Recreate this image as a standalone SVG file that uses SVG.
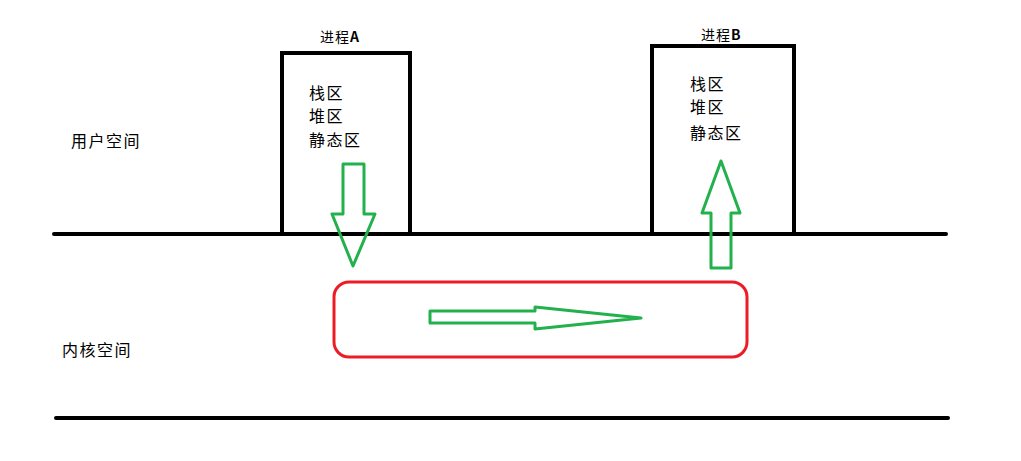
<svg xmlns="http://www.w3.org/2000/svg" width="1021" height="461" viewBox="0 0 1021 461">
<style>
text{font-family:"Noto Sans CJK SC","Noto Sans",sans-serif;fill:#000}
.lbl{font-size:16px;letter-spacing:1.5px}
.ttl{font-size:14px;letter-spacing:1px}
.b{font-weight:bold}
.box{fill:#fff;stroke:#000;stroke-width:4}
.line{stroke:#000;stroke-width:4;stroke-linecap:round}
.arr{fill:none;stroke:#22b14c;stroke-width:3;stroke-linejoin:round}
</style>
<rect width="1021" height="461" fill="#fff"/>
<g id="space-labels">
<text class="lbl" x="71" y="147">用户空间</text>
<text class="lbl" x="62" y="356">内核空间</text>
</g>
<g id="processA">
<rect class="box" x="282" y="53" width="128" height="181"/>
<text class="ttl" x="320" y="42">进程<tspan class="b">A</tspan></text>
<text class="lbl" x="309" y="99">栈区</text>
<text class="lbl" x="309" y="122">堆区</text>
<text class="lbl" x="309" y="146">静态区</text>
</g>
<g id="processB">
<rect class="box" x="652" y="46" width="142" height="188"/>
<text class="ttl" x="701" y="40">进程<tspan class="b">B</tspan></text>
<text class="lbl" x="690" y="90">栈区</text>
<text class="lbl" x="690" y="113">堆区</text>
<text class="lbl" x="690" y="139">静态区</text>
</g>
<g id="lines">
<line class="line" x1="54" y1="234" x2="946" y2="234"/>
<line class="line" x1="56" y1="418" x2="948" y2="418"/>
</g>
<g id="kernel">
<rect x="334" y="282" width="413" height="75" rx="15" ry="15" fill="none" stroke="#ed1c24" stroke-width="3"/>
</g>
<g id="connectors">
<path class="arr" d="M343,164 H364 V214 H375 L353,266 L332,214 H343 Z"/>
<path class="arr" d="M711,268 H731 V213 H740 L721,161 L702,213 H711 Z"/>
<path class="arr" d="M430,311 H535 V307 L641,318 L535,329 V323 H430 Z"/>
</g>
</svg>
